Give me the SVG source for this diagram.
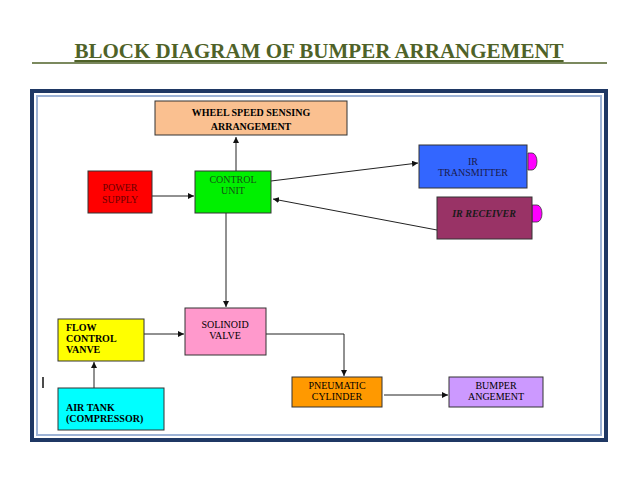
<svg xmlns="http://www.w3.org/2000/svg" width="638" height="478" viewBox="0 0 638 478">
<defs>
<style>
.b{stroke:#333;stroke-width:1}
.t{font-family:"Liberation Serif",serif;font-size:10px;text-anchor:middle}
.tb{font-family:"Liberation Serif",serif;font-size:10px;font-weight:bold}
.c{stroke:#222;stroke-width:1;fill:none;marker-end:url(#a)}
</style>
<marker id="a" viewBox="0 0 10 10" refX="10" refY="5" markerWidth="6" markerHeight="6" orient="auto"><path d="M0,0L10,5L0,10z" fill="#111"/></marker>
</defs>
<rect width="638" height="478" fill="#fff"/>
<text x="319" y="58" font-family="Liberation Serif,serif" font-size="21" font-weight="bold" fill="#4F6228" text-anchor="middle" text-decoration="underline">BLOCK DIAGRAM OF BUMPER ARRANGEMENT</text>
<line x1="32" y1="63" x2="607" y2="63" stroke="#4F6228" stroke-width="1.5"/>
<rect x="32" y="91" width="574" height="349" fill="#fff" stroke="#1F3864" stroke-width="4"/>
<rect x="37" y="96" width="564" height="339" fill="#fff" stroke="#9DB3D6" stroke-width="2"/>
<line x1="43" y1="377" x2="43" y2="388" stroke="#111" stroke-width="1.5"/>
<g id="connectors">
<line class="c" x1="236" y1="171" x2="236" y2="137"/>
<line class="c" x1="152" y1="196" x2="194" y2="196"/>
<line class="c" x1="271" y1="181" x2="418" y2="163"/>
<line class="c" x1="437" y1="230" x2="273" y2="199"/>
<line class="c" x1="226" y1="213" x2="226" y2="307"/>
<line class="c" x1="144" y1="334" x2="184" y2="334"/>
<line class="c" x1="94" y1="388" x2="94" y2="362"/>
<polyline class="c" points="266,334 344,334 344,376"/>
<line class="c" x1="384" y1="395" x2="448" y2="395"/>
</g>
<g id="wheel"><rect class="b" x="155" y="101" width="192" height="34" fill="#FAC090"/><text class="t" x="251" y="116" font-weight="bold" font-size="11">WHEEL SPEED SENSING</text><text class="t" x="251" y="130" font-weight="bold" font-size="11">ARRANGEMENT</text></g>
<g id="power"><rect class="b" x="88" y="171" width="64" height="42" fill="#FF0000"/><text class="t" x="120" y="191" fill="#6b0000">POWER</text><text class="t" x="120" y="203" fill="#6b0000">SUPPLY</text></g>
<g id="control"><rect class="b" x="195" y="171" width="76" height="42" fill="#00F000"/><text class="t" x="233" y="183" fill="#145214">CONTROL</text><text class="t" x="233" y="194" fill="#145214">UNIT</text></g>
<g id="irtx"><path d="M528,153h4a5,8.5 0 0 1 0,17h-4z" fill="#FF00FF" stroke="#333" stroke-width="0.8"/><rect class="b" x="419" y="145" width="108" height="43" fill="#3366FF"/><text class="t" x="473" y="165" fill="#1a1a4d">IR</text><text class="t" x="473" y="176" fill="#1a1a4d">TRANSMITTER</text></g>
<g id="irrx"><path d="M532,205h5a5,8.5 0 0 1 0,17h-5z" fill="#FF00FF" stroke="#333" stroke-width="0.8"/><rect class="b" x="437" y="197" width="95" height="42" fill="#993366"/><text class="t" x="484" y="217" font-weight="bold" font-style="italic" fill="#1a1a1a">IR RECEIVER</text></g>
<g id="solinoid"><rect class="b" x="185" y="308" width="81" height="47" fill="#FF99CC"/><text class="t" x="225" y="328">SOLINOID</text><text class="t" x="225" y="339">VALVE</text></g>
<g id="flow"><rect class="b" x="58" y="319" width="86" height="42" fill="#FFFF00"/><text class="tb" x="66" y="331">FLOW</text><text class="tb" x="66" y="342">CONTROL</text><text class="tb" x="66" y="353">VANVE</text></g>
<g id="airtank"><rect class="b" x="58" y="388" width="106" height="42" fill="#00FFFF"/><text class="tb" x="66" y="411">AIR TANK</text><text class="tb" x="66" y="422">(COMPRESSOR)</text></g>
<g id="pneumatic"><rect class="b" x="292" y="377" width="90" height="30" fill="#FF9900"/><text class="t" x="337" y="389">PNEUMATIC</text><text class="t" x="337" y="400">CYLINDER</text></g>
<g id="bumper"><rect class="b" x="449" y="377" width="94" height="30" fill="#CC99FF"/><text class="t" x="496" y="389">BUMPER</text><text class="t" x="496" y="400">ANGEMENT</text></g>
</svg>
